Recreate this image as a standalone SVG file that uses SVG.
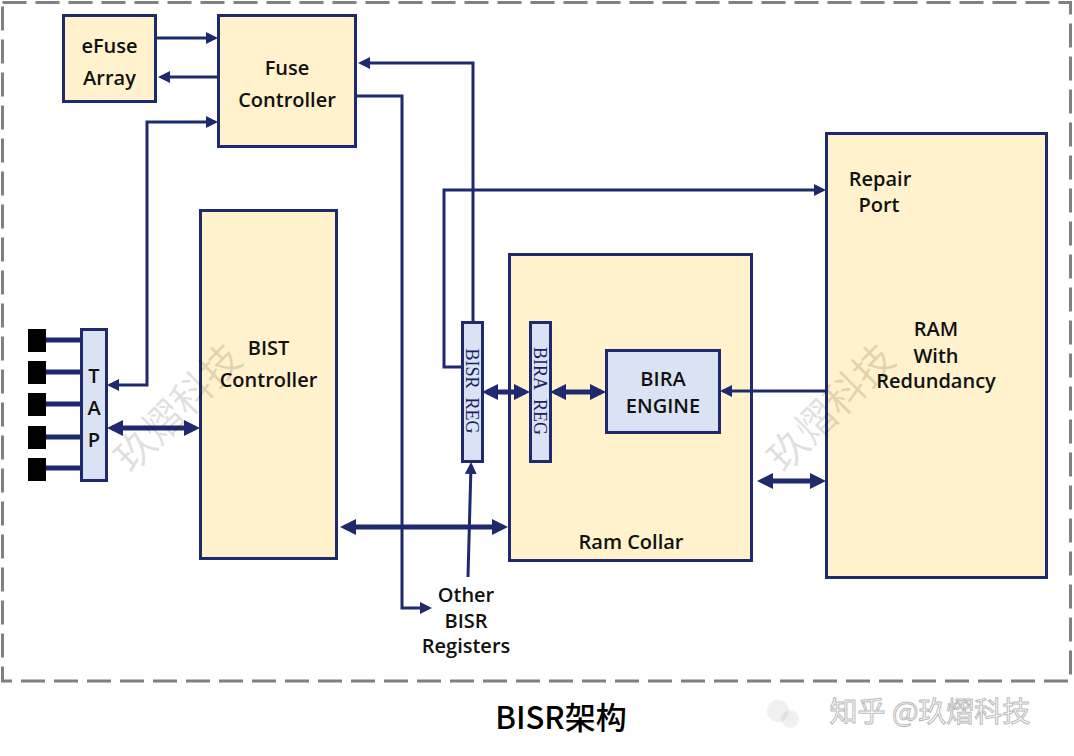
<svg xmlns="http://www.w3.org/2000/svg" width="1074" height="756" viewBox="0 0 1074 756">
<style>
.box{fill:#FFF2CC;stroke:#1F2A6E;stroke-width:3}
.blue{fill:#DAE3F3;stroke:#1F2A6E;stroke-width:3}
.lbl{font-family:"Open Sans","Noto Sans",sans-serif;font-weight:600;font-size:20px;fill:#111;text-anchor:middle}
.reg{font-family:"Liberation Serif","DejaVu Serif",serif;font-size:18px;fill:#1a2060;text-anchor:middle}
.thin{fill:none;stroke:#1F2A6E;stroke-width:3}
.thick{fill:none;stroke:#1F2A6E;stroke-width:5}
.wm{font-family:"Noto Sans CJK SC",sans-serif;font-size:40px;fill:#000;fill-opacity:0.12;text-anchor:middle}
</style>
<defs>
<marker id="ah" markerUnits="userSpaceOnUse" markerWidth="12" markerHeight="12" refX="9" refY="6" orient="auto-start-reverse"><path d="M0,0 L12,6 L0,12 z" fill="#1F2A6E"/></marker>
<marker id="ahb" markerUnits="userSpaceOnUse" markerWidth="16" markerHeight="16" refX="11" refY="8" orient="auto-start-reverse"><path d="M0,0 L16,8 L0,16 z" fill="#1F2A6E"/></marker>
</defs>
<rect x="0" y="0" width="1074" height="756" fill="#fff"/>
<rect x="2.5" y="2.5" width="1068" height="678.5" fill="none" stroke="#808080" stroke-width="3" stroke-dasharray="24 9"/>

<g id="efuse">
<rect class="box" x="63.5" y="15.5" width="92" height="86"/>
<text class="lbl" x="109.5" y="53">eFuse</text>
<text class="lbl" x="109.5" y="85">Array</text>
</g>
<g id="fuse-controller">
<rect class="box" x="218.5" y="15.5" width="137" height="131"/>
<text class="lbl" x="287" y="75">Fuse</text>
<text class="lbl" x="287" y="107">Controller</text>
</g>
<g id="bist-controller">
<rect class="box" x="200.5" y="210.5" width="136" height="348"/>
<text class="lbl" x="268.5" y="355">BIST</text>
<text class="lbl" x="268.5" y="387">Controller</text>
</g>
<g id="tap">
<rect x="28" y="329" width="18" height="23" fill="#000"/>
<rect x="28" y="361" width="18" height="23" fill="#000"/>
<rect x="28" y="393" width="18" height="23" fill="#000"/>
<rect x="28" y="426" width="18" height="23" fill="#000"/>
<rect x="28" y="458" width="18" height="23" fill="#000"/>
<path d="M46,340H81M46,372H81M46,404H81M46,437H81M46,468H81" stroke="#1F2A6E" stroke-width="5"/>
<rect class="blue" x="81.5" y="329.5" width="25" height="151"/>
<text class="lbl" x="94" y="383">T</text>
<text class="lbl" x="94" y="415">A</text>
<text class="lbl" x="94" y="447">P</text>
</g>
<g id="ram-collar">
<rect class="box" x="509.5" y="254.5" width="242" height="306"/>
<text class="lbl" x="631" y="549">Ram Collar</text>
</g>
<g id="bira-engine">
<rect class="blue" x="606.5" y="350.5" width="113" height="82"/>
<text class="lbl" x="663" y="386">BIRA</text>
<text class="lbl" x="663" y="413">ENGINE</text>
</g>
<g id="bisr-reg">
<rect class="blue" x="462.5" y="322.5" width="20" height="139"/>
<text class="reg" transform="translate(472,391) rotate(90)" dy="6">BISR&#160;&#160;REG</text>
</g>
<g id="bira-reg">
<rect class="blue" x="530.5" y="322.5" width="20" height="139"/>
<text class="reg" transform="translate(540,391) rotate(90)" dy="6">BIRA&#160;&#160;REG</text>
</g>
<g id="ram">
<rect class="box" x="826.5" y="133.5" width="220" height="444"/>
<text class="lbl" x="880" y="186">Repair</text>
<text class="lbl" x="879" y="212">Port</text>
<text class="lbl" x="936" y="336">RAM</text>
<text class="lbl" x="936" y="363">With</text>
<text class="lbl" x="936" y="388">Redundancy</text>
</g>
<g id="other-bisr">
<text class="lbl" x="466" y="602">Other</text>
<text class="lbl" x="466" y="628">BISR</text>
<text class="lbl" x="466" y="653">Registers</text>
</g>

<g id="connectors">
<path class="thin" d="M156,38H215" marker-end="url(#ah)"/>
<path class="thin" d="M218,77H161" marker-end="url(#ah)"/>
<path class="thin" d="M110,385H147V122H215" marker-start="url(#ah)" marker-end="url(#ah)"/>
<path class="thin" d="M356,96H402V608H429" marker-end="url(#ah)"/>
<path class="thin" d="M473,322V63H361" marker-end="url(#ah)"/>
<path class="thin" d="M462,367H444V190H823" marker-end="url(#ah)"/>
<path class="thin" d="M826,391H723" marker-end="url(#ah)"/>
<path class="thin" d="M468,577L471,465" marker-end="url(#ah)"/>
<path class="thick" d="M112,428H195" marker-start="url(#ahb)" marker-end="url(#ahb)"/>
<path class="thick" d="M345,527H503" marker-start="url(#ahb)" marker-end="url(#ahb)"/>
<path class="thick" d="M487,392H525" marker-start="url(#ahb)" marker-end="url(#ahb)"/>
<path class="thick" d="M555,392H601" marker-start="url(#ahb)" marker-end="url(#ahb)"/>
<path class="thick" d="M762,481H821" marker-start="url(#ahb)" marker-end="url(#ahb)"/>
</g>

<text x="561" y="729" font-family="Noto Sans CJK SC,sans-serif" font-weight="500" font-size="31" fill="#000" text-anchor="middle">BISR架构</text>

<g id="watermarks">
<text class="wm" transform="translate(178,408) rotate(-45)" dy="14">玖熠科技</text>
<text class="wm" transform="translate(831,408) rotate(-45)" dy="14">玖熠科技</text>
<circle cx="778" cy="711" r="11" fill="#000" fill-opacity="0.06"/>
<circle cx="790" cy="719" r="9" fill="#000" fill-opacity="0.06"/>
<text x="930" y="722" font-family="Noto Sans CJK SC,sans-serif" font-size="28" fill="#fff" stroke="#bbb" stroke-width="1" text-anchor="middle">知乎 @玖熠科技</text>
</g>
</svg>
